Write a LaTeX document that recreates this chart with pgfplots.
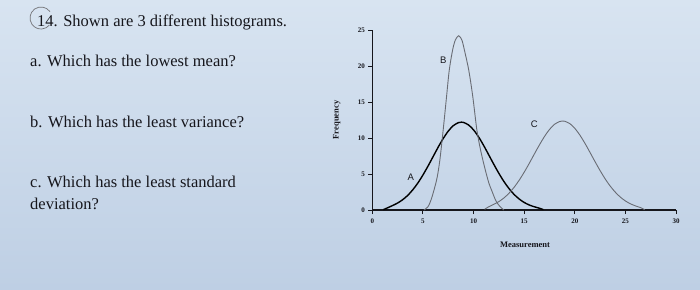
\documentclass[border=0pt]{standalone}
\usepackage{fontspec}
\setmainfont{Liberation Serif}
\newfontfamily\sansf{Liberation Sans}
\usepackage{pgfplots}
\pgfplotsset{compat=1.18}
\definecolor{bgtop}{RGB}{216,228,241}
\definecolor{bgbot}{RGB}{190,207,228}
\definecolor{ink}{RGB}{22,22,28}
\definecolor{curvegray}{RGB}{105,108,116}
\begin{document}
\begin{tikzpicture}[x=1pt,y=1pt]
\shade[top color=bgtop, bottom color=bgbot] (0,0) rectangle (700,289);
\clip (0,0) rectangle (700,289);
% question text
\begin{scope}[every node/.style={anchor=base west, text=ink, inner sep=0pt, font=\fontsize{16.5}{19}\selectfont}]
\node at (37,262) {14. Shown are 3 different histograms.};
\node at (30,222) {a. Which has the lowest mean?};
\node at (30,161) {b. Which has the least variance?};
\node at (30,101) {c. Which has the least standard};
\node at (30,80) {deviation?};
\end{scope}
\draw[ink!60, line width=0.7pt] ({41+11*cos(35)},{271+11*sin(35)}) arc[start angle=35, end angle=320, radius=11];
\begin{axis}[
  at={(372.3pt,79pt)}, anchor=south west,
  scale only axis, width=303.7pt, height=180pt,
  xmin=0, xmax=30, ymin=0, ymax=25,
  axis lines=left, axis line style={-, line width=1.2pt, ink},
  xtick={0,5,...,30}, ytick={0,5,...,25},
  tick align=outside, major tick length=4pt,
  tick style={line width=1pt, ink},
  /pgf/number format/assume math mode=true,
  ticklabel style={font=\fontsize{7}{8}\selectfont\bfseries, text=ink},
  xticklabel style={yshift=-1pt},
  xlabel={Measurement}, ylabel={Frequency},
  xlabel style={at={(axis description cs:0.503,-0.194)}, anchor=center, font=\fontsize{8.5}{10}\selectfont\bfseries, text=ink},
  ylabel style={at={(axis description cs:-0.117,0.5)}, anchor=center, font=\fontsize{8.5}{10}\selectfont\bfseries, text=ink},
  clip=false,
]
\addplot[smooth, black, line width=1.4pt] coordinates {
(1.1,0.05)(1.5,0.3)(2,0.62)(2.5,0.97)(3,1.43)(3.5,2.03)(4,2.81)(4.5,3.75)(5,4.86)(5.5,6.09)(6,7.40)(6.5,8.71)(7,9.92)(7.5,10.95)(8,11.71)(8.5,12.13)(8.8,12.2)(9,12.17)(9.5,11.82)(10,11.13)(10.5,10.15)(11,8.96)(11.5,7.66)(12,6.35)(12.5,5.10)(13,3.96)(13.5,2.98)(14,2.17)(14.5,1.54)(15,1.05)(15.5,0.70)(16,0.45)(16.5,0.25)(16.9,0.05)
};
\addplot[smooth, curvegray, line width=0.9pt] coordinates {
(5.1,0)(5.5,0.45)(5.8,1.4)(6.1,2.8)(6.4,4.5)(6.67,6.9)(7.0,11.1)(7.33,15.7)(7.6,19.4)(7.93,22.2)(8.2,23.6)(8.53,24.2)(8.85,23.6)(9.1,22.2)(9.53,19.4)(9.93,15.7)(10.33,11.1)(10.7,8.3)(11.1,5.9)(11.5,3.8)(11.77,2.8)(12.2,1.3)(12.6,0.5)(13.0,0)
};
\addplot[smooth, curvegray, line width=0.9pt] coordinates {
(11.1,0.1)(11.5,0.45)(12,0.79)(12.5,1.17)(13,1.67)(13.5,2.33)(14,3.14)(14.5,4.12)(15,5.24)(15.5,6.47)(16,7.76)(16.5,9.02)(17,10.19)(17.5,11.18)(18,11.90)(18.5,12.29)(18.8,12.36)(19,12.33)(19.5,12.01)(20,11.35)(20.5,10.41)(21,9.27)(21.5,8.01)(22,6.72)(22.5,5.48)(23,4.33)(23.5,3.32)(24,2.48)(24.5,1.79)(25,1.26)(25.5,0.86)(26,0.57)(26.5,0.33)(26.9,0.05)
};
\node[font=\sansf\fontsize{9.5}{11}\selectfont, text=ink] at (axis cs:3.8,4.6) {A};
\node[font=\sansf\fontsize{9.5}{11}\selectfont, text=ink] at (axis cs:7.0,20.8) {B};
\node[font=\sansf\fontsize{9.5}{11}\selectfont, text=ink] at (axis cs:16.0,11.9) {C};
\end{axis}
\end{tikzpicture}
\end{document}
